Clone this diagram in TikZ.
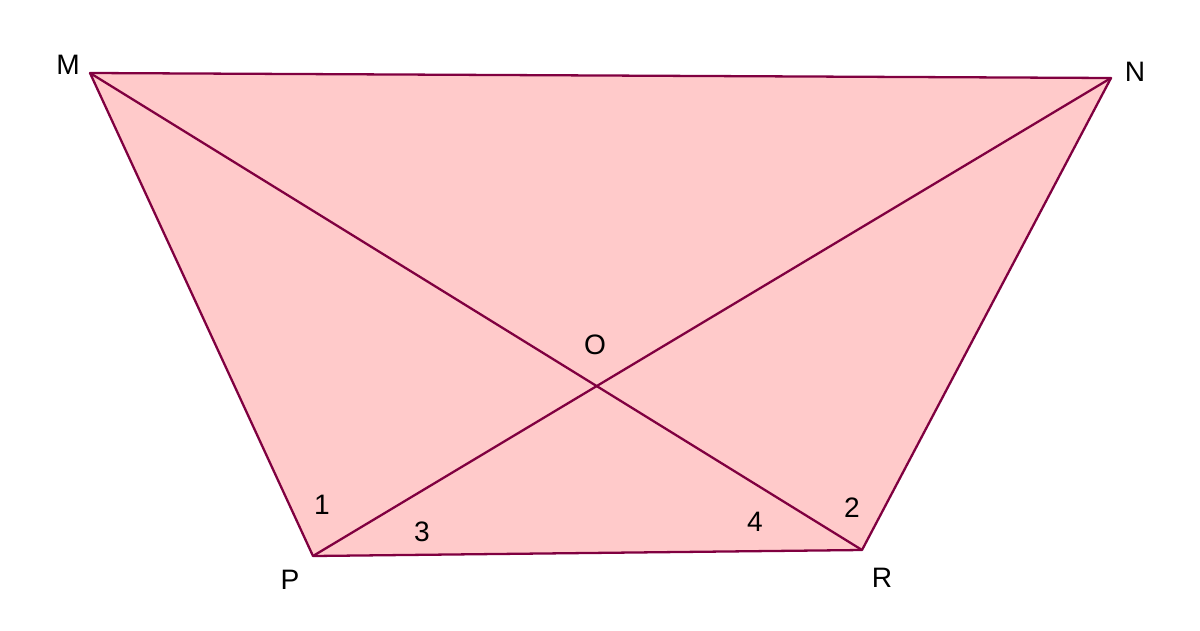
\documentclass[tikz,border=0pt]{standalone}
\usepackage{fontspec}
\setmainfont{Liberation Sans}
\definecolor{edgecol}{HTML}{800040}
\definecolor{fillcol}{HTML}{FFCACA}
\begin{document}
\begin{tikzpicture}[
    edge/.style={edgecol, line width=1.3pt, line join=round},
    lbl/.style={font=\fontsize{16}{18}\selectfont, inner sep=0pt}
  ]
    \useasboundingbox (0,0) rectangle (24,12.6);% 1200x630 frame
    \coordinate (M) at (1.8,11.14);
    \coordinate (N) at (22.22,11.04);
    \coordinate (P) at (6.26,1.48);
    \coordinate (R) at (17.24,1.6);
    \coordinate (O) at (intersection of M--R and N--P);

    \fill[fillcol] (M) -- (N) -- (R) -- (P) -- cycle;% Shaded trapezium
    \draw[edge] (M) -- (N) -- (R) -- (P) -- cycle;
    \draw[edge] (M) -- (R);% Diagonals
    \draw[edge] (N) -- (P);

    \node[lbl] (Mlabel) at (1.36,11.3) {M};
    \node[lbl] (Nlabel) at (22.7,11.16) {N};
    \node[lbl] (Plabel) at (5.8,1.0) {P};
    \node[lbl] (Rlabel) at (17.64,1.04) {R};
    \node[lbl] (Olabel) at (11.9,5.7) {O};
        % Angle numbers
    \node[lbl] (angA) at (6.44,2.5) {1};
    \node[lbl] (angB) at (17.04,2.44) {2};
    \node[lbl] (angC) at (8.44,1.96) {3};
    \node[lbl] (angD) at (15.1,2.16) {4};
\end{tikzpicture}
\end{document}
